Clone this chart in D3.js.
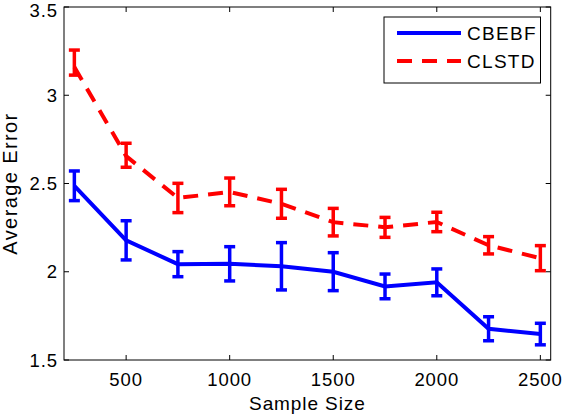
<!DOCTYPE html>
<html><head><meta charset="utf-8">
<script src="https://cdn.jsdelivr.net/npm/d3@7/dist/d3.min.js"></script>
<style>body{margin:0;background:#fff}svg{display:block}text{font-family:"Liberation Sans",Arial,sans-serif}</style>
</head><body>
<script>
const sampleSizes = [250,500,750,1000,1250,1500,1750,2000,2250,2500];
const cbebfMean = [2.487,2.178,2.043,2.045,2.031,2.000,1.917,1.940,1.677,1.647];
const cbebfLow  = [2.403,2.067,1.972,1.948,1.897,1.893,1.847,1.864,1.609,1.586];
const cbebfHigh = [2.571,2.289,2.114,2.142,2.165,2.108,1.987,2.016,1.745,1.708];
const clstdMean = [3.160,2.655,2.418,2.452,2.385,2.281,2.252,2.282,2.150,2.077];
const clstdLow  = [3.114,2.592,2.335,2.374,2.303,2.203,2.195,2.227,2.101,2.006];
const clstdHigh = [3.256,2.728,2.501,2.531,2.467,2.359,2.308,2.337,2.199,2.148];
const xTicks = [500,1000,1500,2000,2500];
const yTicks = [1.5,2,2.5,3,3.5];
const seriesNames = ["CBEBF","CLSTD"];

const W=566,H=415;
const m={l:64,t:7,r:15.3,b:55};
const svg=d3.select("body").append("svg").attr("width",W).attr("height",H);
const x=d3.scaleLinear().domain([200,2550]).range([m.l,W-m.r]);
const y=d3.scaleLinear().domain([1.5,3.5]).range([H-m.b,m.t]);
const x0=x.range()[0],x1=x.range()[1],y0=y.range()[0],y1=y.range()[1];

const g=svg.append("g");
const tl=5;
xTicks.forEach(t=>{
  g.append("line").attr("x1",x(t)).attr("x2",x(t)).attr("y1",y0).attr("y2",y0-tl).attr("stroke","#000");
  g.append("line").attr("x1",x(t)).attr("x2",x(t)).attr("y1",y1).attr("y2",y1+tl).attr("stroke","#000");
  g.append("text").attr("x",x(t)).attr("y",y0+26).attr("text-anchor","middle").attr("font-size",18.5).attr("letter-spacing",0.9).text(t);
});
yTicks.forEach(t=>{
  g.append("line").attr("x1",x0).attr("x2",x0+tl).attr("y1",y(t)).attr("y2",y(t)).attr("stroke","#000");
  g.append("line").attr("x1",x1).attr("x2",x1-tl).attr("y1",y(t)).attr("y2",y(t)).attr("stroke","#000");
  g.append("text").attr("x",x0-6).attr("y",Math.max(y(t)+6.5,17)).attr("text-anchor","end").attr("font-size",18.5).attr("letter-spacing",0.9).text(t);
});
svg.append("text").attr("x",(x0+x1)/2).attr("y",H-5).attr("text-anchor","middle").attr("font-size",19).attr("letter-spacing",0.9).text("Sample Size");
svg.append("text").attr("transform",`translate(16.5,${(y0+y1)/2}) rotate(-90)`).attr("text-anchor","middle").attr("font-size",20).attr("letter-spacing",1.4).text("Average Error");

const series=[
  {name:seriesNames[0],mean:cbebfMean,lo:cbebfLow,hi:cbebfHigh,color:"#0000ff",dash:null},
  {name:seriesNames[1],mean:clstdMean,lo:clstdLow,hi:clstdHigh,color:"#ff0000",dash:"15,10"}
];
const line=d3.line().x(d=>x(d[0])).y(d=>y(d[1]));
series.slice().reverse().forEach(s=>{
  const pts=sampleSizes.map((v,i)=>[v,s.mean[i]]);
  svg.append("path").attr("d",line(pts)).attr("fill","none").attr("stroke",s.color).attr("stroke-width",4).attr("stroke-dasharray",s.dash);
  const eb=svg.append("g").attr("stroke",s.color).attr("stroke-width",3.5);
  sampleSizes.forEach((v,i)=>{
    const cx=x(v);
    eb.append("line").attr("x1",cx).attr("x2",cx).attr("y1",y(s.lo[i])).attr("y2",y(s.hi[i]));
    eb.append("line").attr("x1",cx-5.5).attr("x2",cx+5.5).attr("y1",y(s.lo[i])).attr("y2",y(s.lo[i]));
    eb.append("line").attr("x1",cx-5.5).attr("x2",cx+5.5).attr("y1",y(s.hi[i])).attr("y2",y(s.hi[i]));
  });
});

svg.append("rect").attr("x",x0).attr("y",y1).attr("width",x1-x0).attr("height",y0-y1).attr("fill","none").attr("stroke","#000");

const lg=svg.append("g");
lg.append("rect").attr("x",384).attr("y",17).attr("width",156.5).attr("height",66).attr("fill","#fff").attr("stroke","#000");
series.forEach((s,i)=>{
  const ly=33+i*28;
  lg.append("line").attr("x1",397).attr("x2",461).attr("y1",ly).attr("y2",ly).attr("stroke",s.color).attr("stroke-width",4).attr("stroke-dasharray",s.dash);
  lg.append("text").attr("x",467).attr("y",ly+6.8).attr("font-size",19).attr("letter-spacing",1.3).text(s.name);
});
</script>
</body></html>
